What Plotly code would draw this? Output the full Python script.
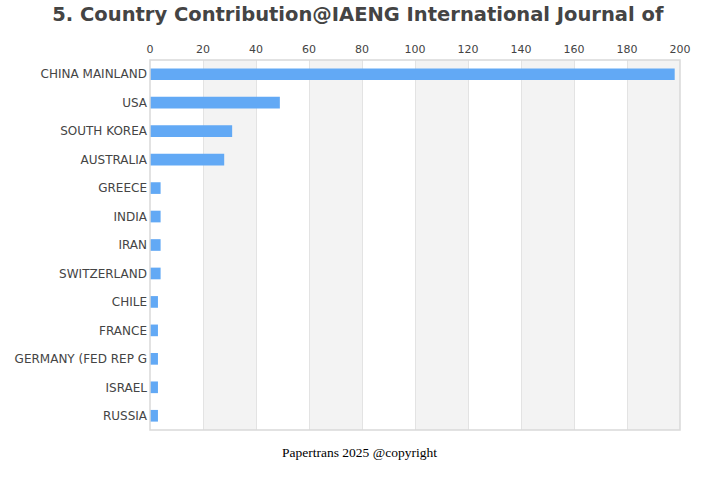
import plotly.graph_objects as go

countries = ["CHINA MAINLAND", "USA", "SOUTH KOREA", "AUSTRALIA", "GREECE", "INDIA",
             "IRAN", "SWITZERLAND", "CHILE", "FRANCE", "GERMANY (FED REP G", "ISRAEL", "RUSSIA"]
counts = [198, 49, 31, 28, 4, 4, 4, 4, 3, 3, 3, 3, 3]
x_ticks = [0, 20, 40, 60, 80, 100, 120, 140, 160, 180, 200]

title_text = "5. Country Contribution@IAENG International Journal of"
footer_text = "Papertrans 2025 @copyright"

fig = go.Figure(go.Bar(
    x=counts, y=countries, orientation="h",
    marker=dict(color="#62a9f5", line=dict(width=0)),
    width=0.41,
))

shapes = []
for i in range(len(x_ticks) - 1):
    if i % 2 == 1:
        shapes.append(dict(type="rect", xref="x", yref="paper",
                           x0=x_ticks[i], x1=x_ticks[i + 1], y0=0, y1=1,
                           fillcolor="#f3f3f3", line=dict(width=0), layer="below"))
shapes.append(dict(type="rect", xref="paper", yref="paper", x0=0, x1=1, y0=0, y1=1,
                   line=dict(color="#d9d9d9", width=1.5), layer="above"))

fig.update_layout(
    width=720, height=480,
    margin=dict(l=150, r=40, t=60, b=50),
    paper_bgcolor="white", plot_bgcolor="white",
    showlegend=False,
    shapes=shapes,
    title=dict(text=f"<b>{title_text}</b>", x=0.497, xanchor="center", y=0.97, yanchor="middle",
               font=dict(family="DejaVu Sans", size=19.5, color="#444444")),
    xaxis=dict(side="top", range=[0, 200], tickvals=x_ticks, ticktext=[str(t) for t in x_ticks],
               showgrid=True, gridcolor="#e3e3e3", gridwidth=1, zeroline=False,
               tickfont=dict(family="DejaVu Sans", size=11, color="#444444"),
               ticks="", showline=False, ticklabelstandoff=4),
    yaxis=dict(autorange="reversed", tickfont=dict(family="DejaVu Sans", size=12, color="#444444"),
               ticks="", showgrid=False, zeroline=False, showline=False, ticklabelstandoff=2),
    annotations=[dict(text=footer_text, xref="paper", yref="paper", x=0.395, y=-0.06,
                      xanchor="center", yanchor="middle", showarrow=False,
                      font=dict(family="Liberation Serif", size=13.5, color="#000000"))],
)

fig.write_html("out.html")
